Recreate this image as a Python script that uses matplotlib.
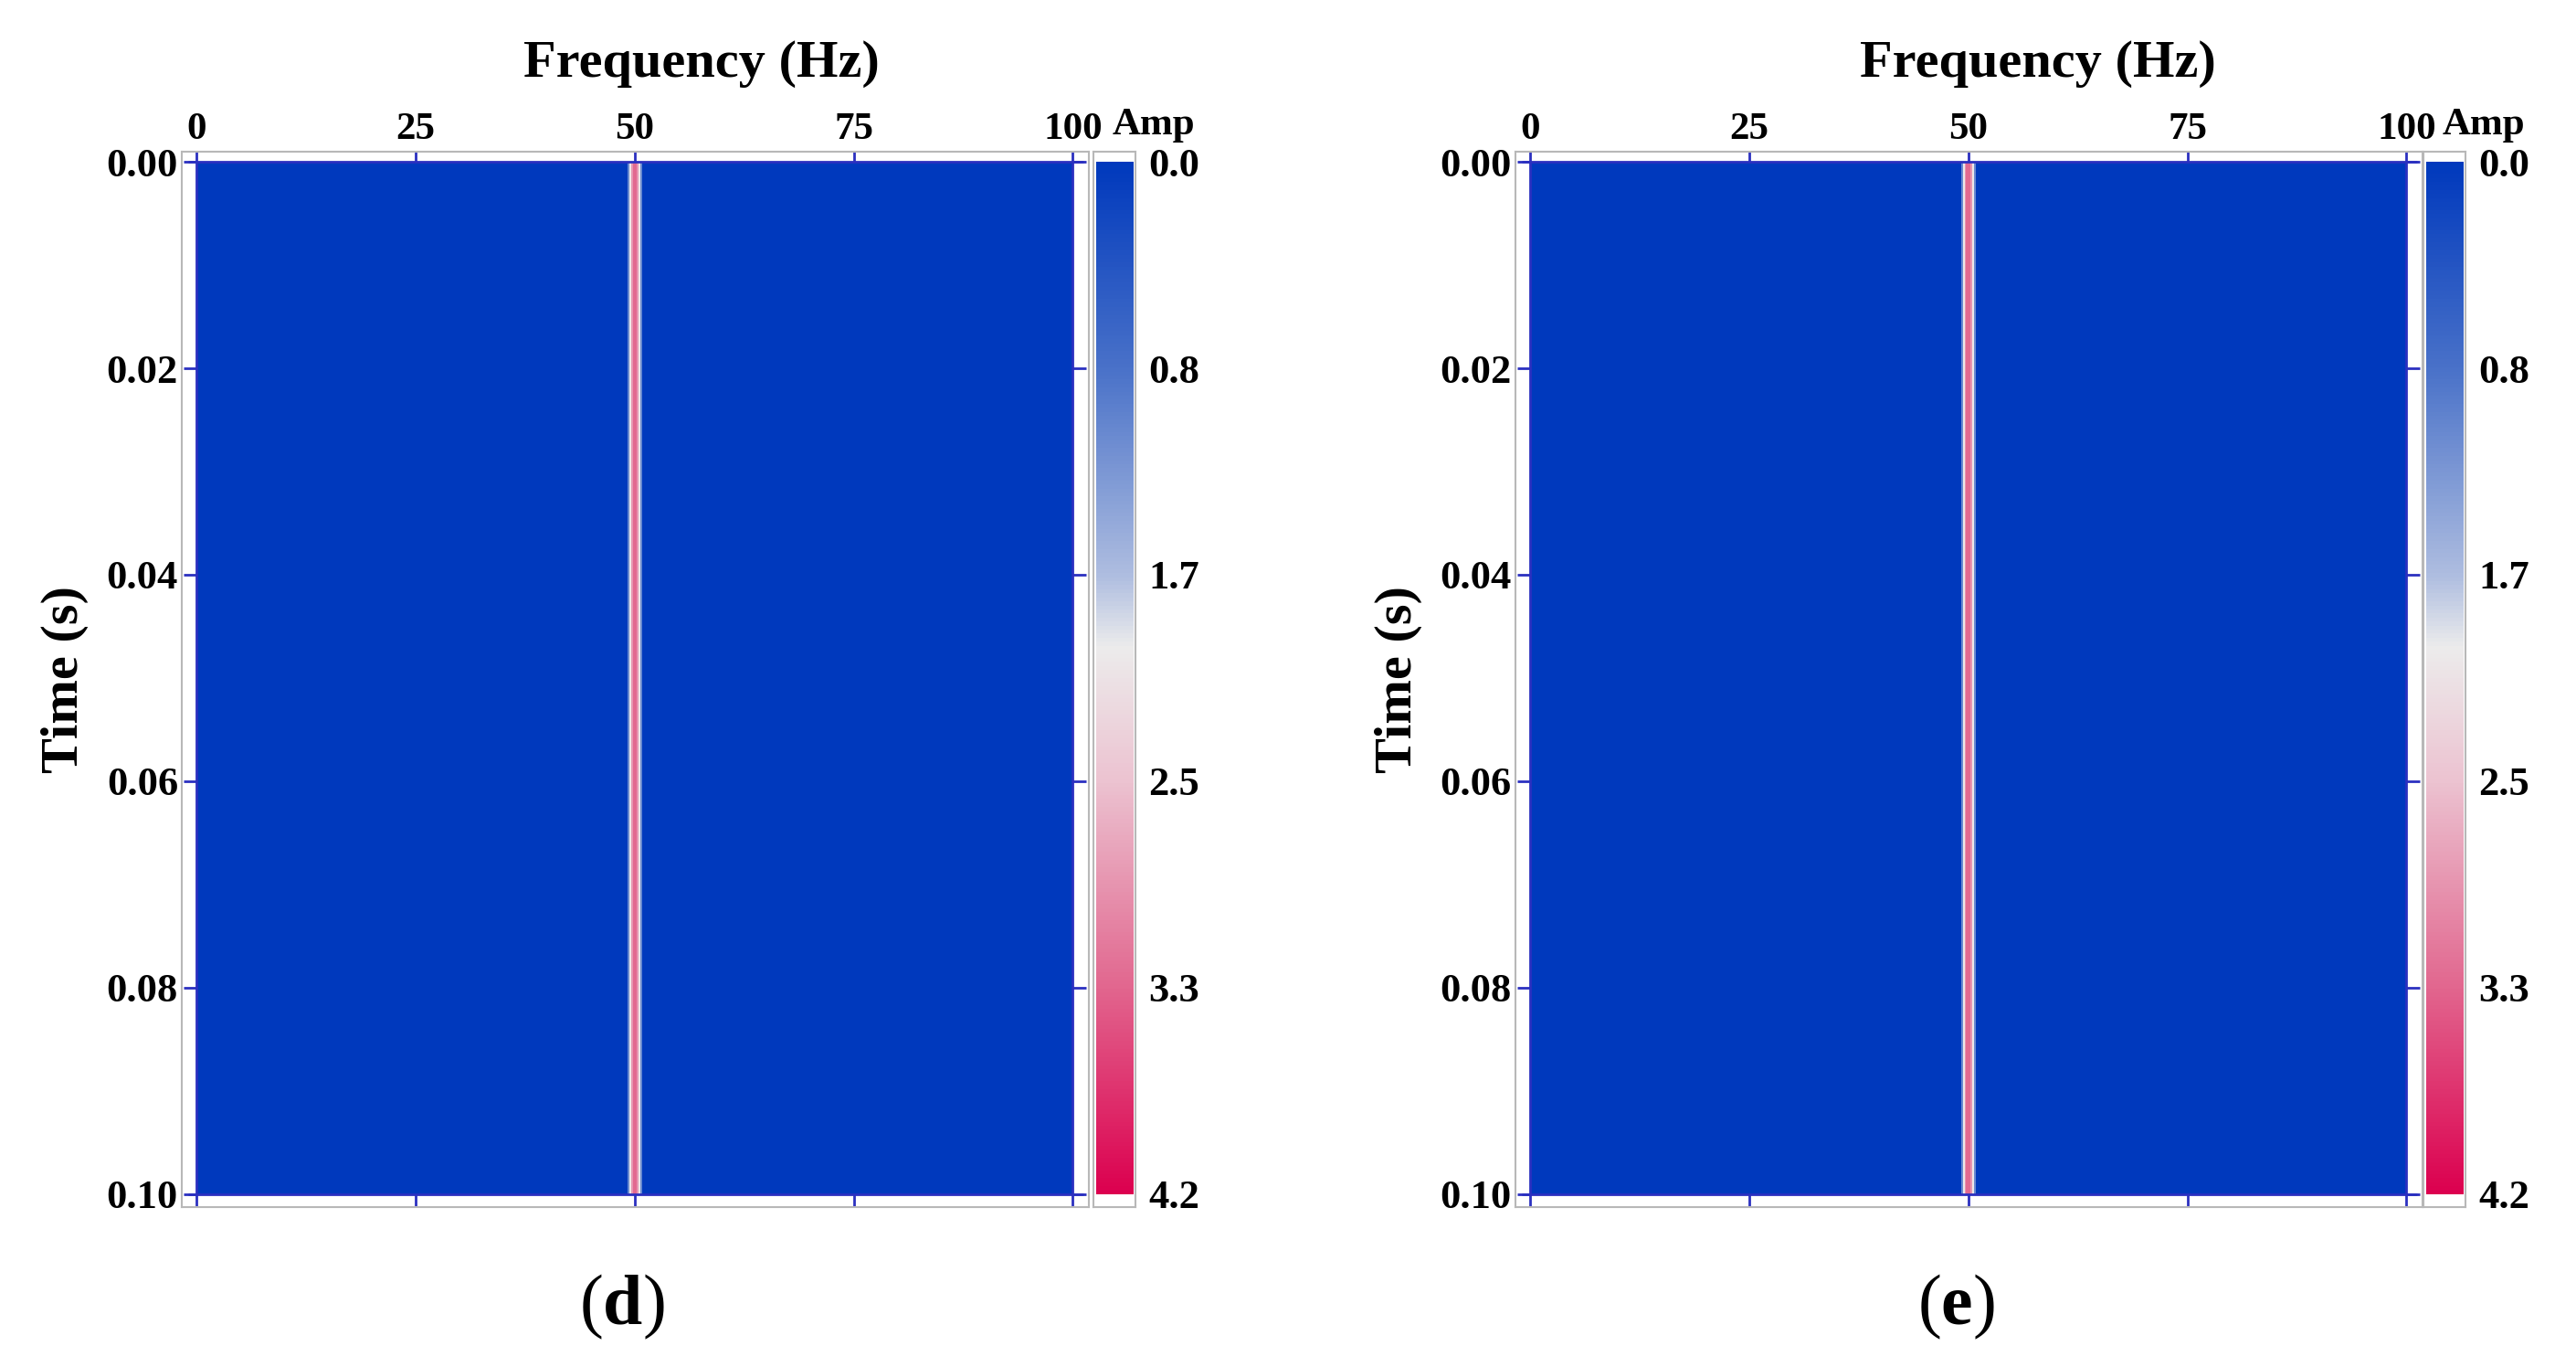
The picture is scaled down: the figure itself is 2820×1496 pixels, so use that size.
import numpy as np
import matplotlib
matplotlib.use('Agg')
import matplotlib.pyplot as plt
from matplotlib.colors import LinearSegmentedColormap

plt.rcParams['font.family'] = ['Liberation Serif', 'DejaVu Serif']
plt.rcParams['font.weight'] = 'bold'
plt.rcParams['mathtext.fontset'] = 'custom'
plt.rcParams['mathtext.rm'] = 'Liberation Serif'
plt.rcParams['mathtext.bf'] = 'Liberation Serif:bold'

# spectrum: amplitude per frequency bin (same for every time step)
freq_edges = [0.0, 49.2, 49.4, 49.55, 49.75, 50.0, 50.25, 50.45, 50.6, 50.8, 100.0]
amp_d = [0.0, 1.1, 2.0, 2.9, 3.3, 3.3, 2.9, 2.0, 1.1, 0.0]
amp_e = [0.0, 1.1, 2.0, 2.9, 3.3, 3.3, 2.9, 2.0, 1.1, 0.0]
time_edges = [0.0, 0.1]

x_ticks = [0, 25, 50, 75, 100]
y_ticks = [0.00, 0.02, 0.04, 0.06, 0.08, 0.10]
y_labels = ['0.00', '0.02', '0.04', '0.06', '0.08', '0.10']
amp_max = 4.15
cb_ticks = [0.0, 0.83, 1.66, 2.49, 3.32, 4.15]
cb_labels = ['0.0', '0.8', '1.7', '2.5', '3.3', '4.2']

cmap = LinearSegmentedColormap.from_list('amp', [
    (0.0, '#0039bd'), (0.2, '#4a72c9'), (0.4, '#aebde0'), (0.47, '#ececec'),
    (0.6, '#ecc3d1'), (0.8, '#e2678f'), (1.0, '#dc004f')])

BLUE = '#2b30c0'
GRAY = '#b8b8b8'
XL = (-1.7, 101.8)
YL = (0.10124, -0.00097)

fig = plt.figure(figsize=(28.2, 14.96), dpi=100)


def panel(left, cb_left, amp, letter, title_x):
    ax = fig.add_axes([left, 0.117, 0.352, 0.772])
    ax.pcolormesh(freq_edges, time_edges, np.array(amp)[None, :], cmap=cmap,
                  vmin=0, vmax=amp_max, shading='flat')
    ax.set_xlim(*XL)
    ax.set_ylim(*YL)
    for s in ax.spines.values():
        s.set_color(GRAY)
        s.set_linewidth(1.5)
    # blue axis lines and inner ticks
    ax.hlines([0, 0.1], -1.0, 101.2, color=BLUE, lw=2)
    ax.vlines([0, 100], 0, 0.1, color=BLUE, lw=2)
    ax.vlines(x_ticks, YL[1], 0, color=BLUE, lw=2)
    ax.vlines(x_ticks, 0.1, YL[0], color=BLUE, lw=2)
    ax.hlines(y_ticks, XL[0] + 0.2, 0, color=BLUE, lw=2)
    ax.hlines(y_ticks, 100, XL[1] - 0.3, color=BLUE, lw=2)

    ax.xaxis.tick_top()
    ax.set_xticks(x_ticks)
    ax.set_xticklabels([str(t) for t in x_ticks])
    ax.set_yticks(y_ticks)
    ax.set_yticklabels(y_labels)
    ax.tick_params(axis='x', length=0, pad=4, labelsize=31)
    ax.tick_params(axis='y', length=0, pad=3, labelsize=32)
    ax.xaxis.set_label_position('top')
    ax.set_xlabel('Frequency (Hz)', fontsize=42, fontweight='bold')
    ax.xaxis.set_label_coords(title_x, 1.071)
    ax.set_ylabel('Time (s)', fontsize=42, fontweight='bold')
    ax.yaxis.set_label_coords(-0.103, 0.5)

    # colour bar
    cax = fig.add_axes([cb_left, 0.117, 0.0163, 0.772])
    grad = np.linspace(0, amp_max, 256)[:, None]
    cax.imshow(grad, cmap=cmap, aspect='auto', extent=[0.06, 0.94, amp_max, 0],
               vmin=0, vmax=amp_max)
    pad_top = 0.00097 / 0.1 * amp_max
    pad_bot = 0.00124 / 0.1 * amp_max
    cax.set_xlim(0, 1)
    cax.set_ylim(amp_max + pad_bot, -pad_top)
    for s in cax.spines.values():
        s.set_color(GRAY)
        s.set_linewidth(1.5)
    cax.set_xticks([])
    cax.yaxis.tick_right()
    cax.set_yticks(cb_ticks)
    cax.set_yticklabels(cb_labels)
    cax.tick_params(axis='y', length=0, pad=10, labelsize=32)
    cax.text(0.45, 1.025, 'Amp', transform=cax.transAxes, fontsize=31,
             fontweight='bold', ha='left', va='center')

    fig.text(left + 0.171, 0.044, r'($\mathbf{' + letter + '}$)', fontsize=56,
             fontweight='normal', ha='center', va='center')


panel(0.0706, 0.4245, amp_d, 'd', 0.573)
panel(0.5883, 0.9408, amp_e, 'e', 0.576)

fig.savefig('out.png', dpi=100)
